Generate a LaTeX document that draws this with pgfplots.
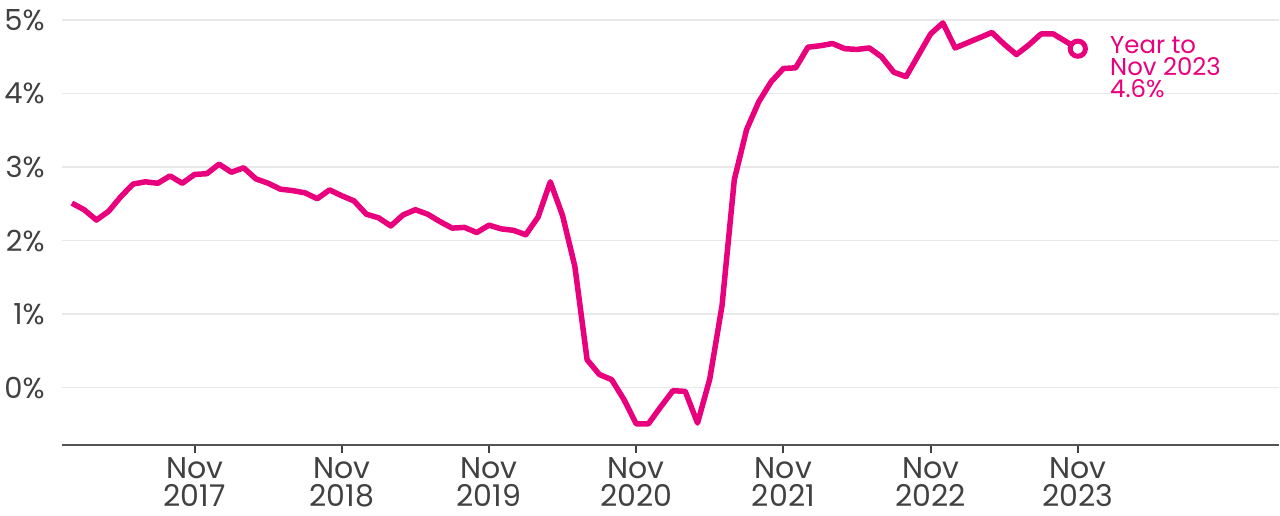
\documentclass[border=0pt]{standalone}
\usepackage{fontspec}
\setmainfont{Poppins}
\usepackage{pgfplots}
\pgfplotsset{compat=1.18}
\definecolor{pinkc}{RGB}{232,0,125}
\definecolor{txt}{RGB}{65,65,65}
\definecolor{gridc}{RGB}{232,232,232}
\begin{document}
\begin{tikzpicture}
\begin{axis}[
 at={(0,0)}, anchor=south west,
 scale only axis, width=609pt, height=212.5pt,
 xmin=-0.81, xmax=98.4, ymin=-0.774, ymax=5,
 axis x line*=bottom, axis y line*=left,
 x axis line style={-, color=txt!90, line width=1pt},
 y axis line style={draw=none},
 xtick={10,22,34,46,58,70,82},
 xticklabels={Nov\\2017,Nov\\2018,Nov\\2019,Nov\\2020,Nov\\2021,Nov\\2022,Nov\\2023},
 xticklabel style={align=center, font=\fontsize{15}{14}\selectfont, text=txt, anchor=north, inner sep=0pt, yshift=-2.5pt},
 xtick style={color=txt, line width=1pt},
 tick align=outside,
 major tick length=4pt,
 ytick={0,1,2,3,4,5},
 yticklabels={0\%,1\%,2\%,3\%,4\%,5\%},
 ytick style={draw=none},
 yticklabel style={font=\fontsize{14.5}{14.5}\selectfont, text=txt, anchor=east, inner sep=0pt, xshift=-4.5pt},
 ymajorgrids, grid style={gridc, line width=0.75pt},
 clip=false,
]
\addplot[pinkc, line width=2.75pt, line join=round] table {
t v
0 2.51
1 2.42
2 2.28
3 2.40
4 2.60
5 2.77
6 2.80
7 2.78
8 2.88
9 2.78
10 2.90
11 2.91
12 3.04
13 2.93
14 2.99
15 2.84
16 2.78
17 2.70
18 2.68
19 2.65
20 2.57
21 2.69
22 2.61
23 2.54
24 2.36
25 2.31
26 2.20
27 2.35
28 2.42
29 2.36
30 2.26
31 2.17
32 2.18
33 2.11
34 2.21
35 2.16
36 2.14
37 2.08
38 2.32
39 2.80
40 2.34
41 1.65
42 0.38
43 0.18
44 0.11
45 -0.16
46 -0.49
47 -0.49
48 -0.26
49 -0.04
50 -0.05
51 -0.48
52 0.12
53 1.12
54 2.83
55 3.51
56 3.89
57 4.16
58 4.34
59 4.35
60 4.63
61 4.65
62 4.68
63 4.61
64 4.60
65 4.62
66 4.50
67 4.29
68 4.23
69 4.52
70 4.81
71 4.96
72 4.62
73 4.69
74 4.76
75 4.83
76 4.67
77 4.53
78 4.66
79 4.81
80 4.81
81 4.71
82 4.61
};
\addplot[only marks, mark=*, mark size=3.8pt, mark options={fill=white, draw=pinkc, line width=2.5pt}] coordinates {(82,4.61)};
\node[anchor=north west, align=left, text=pinkc, font=\fontsize{12.2}{11}\selectfont, inner sep=0pt, xshift=16pt, yshift=6.5pt] at (axis cs:82,4.61) {Year to\\Nov 2023\\4.6\%};
\end{axis}
\path (-31pt,-35.5pt) rectangle (609pt,222.5pt);
\end{tikzpicture}
\end{document}
